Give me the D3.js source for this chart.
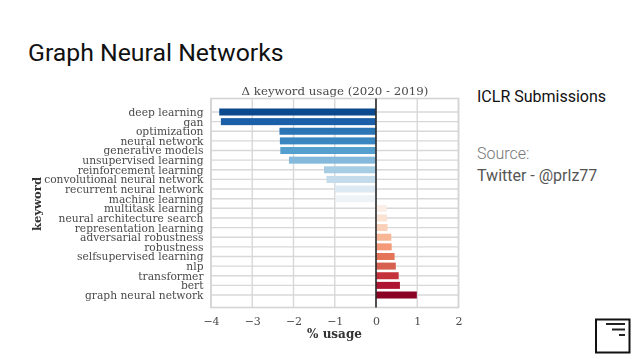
<!DOCTYPE html>
<html>
<head>
<meta charset="utf-8">
<script src="https://cdn.jsdelivr.net/npm/d3@7"></script>
<style>
  html, body { margin: 0; padding: 0; background: #fff; }
  svg { display: block; }
  .slide { font-family: Roboto, sans-serif; }
  .plot { filter: blur(0.4px); }
  .plot text { font-family: "DejaVu Serif", serif; }
</style>
</head>
<body>
<div id="chart"></div>
<script>
const keywords = [
  'deep learning', 'gan', 'optimization', 'neural network', 'generative models',
  'unsupervised learning', 'reinforcement learning', 'convolutional neural network',
  'recurrent neural network', 'machine learning', 'multitask learning',
  'neural architecture search', 'representation learning', 'adversarial robustness',
  'robustness', 'selfsupervised learning', 'nlp', 'transformer', 'bert', 'graph neural network'
];
const usageDelta = [
  -3.8, -3.76, -2.34, -2.33, -2.32, -2.11, -1.26, -1.2, -1.0, -0.98,
  0.26, 0.27, 0.28, 0.37, 0.38, 0.45, 0.48, 0.55, 0.58, 0.99
];
const xTicks = [-4, -3, -2, -1, 0, 1, 2];
const barColors = [
  '#0b4a8f', '#1a5fa8', '#2b75b5', '#3a86c0', '#559fce', '#84b9dc', '#a6cde4', '#c4dbeb', '#dce9f3', '#eef3f7',
  '#fbeee6', '#fbe3d4', '#fbd0b9', '#f9b695', '#f49a78', '#e57357', '#d6604d', '#c5313a', '#ae1530', '#8a0324'
];

const width = 638, height = 359;
const frame = {left: 211, right: 458.5, top: 98.5, bottom: 307.5};

const svg = d3.select('#chart').append('svg')
  .attr('width', width)
  .attr('height', height);

const x = d3.scaleLinear().domain([-4, 2]).range([frame.left, frame.right]);
const y = d3.scalePoint().domain(keywords).range([112, 295]);
const color = d3.scaleOrdinal().domain(keywords).range(barColors);

// slide text
const slide = svg.append('g').attr('class', 'slide');
slide.append('text').attr('x', 28).attr('y', 61)
  .attr('font-size', 24.8).attr('fill', '#111').text('Graph Neural Networks');
slide.append('text').attr('x', 477).attr('y', 102)
  .attr('font-size', 16).attr('fill', '#111').text('ICLR Submissions');
slide.append('text').attr('x', 477).attr('y', 159)
  .attr('font-size', 16).attr('font-weight', 300).attr('fill', '#777').text('Source:');
slide.append('text').attr('x', 477).attr('y', 181)
  .attr('font-size', 16).attr('fill', '#555').text('Twitter - @prlz77');

// logo bottom right
const logo = svg.append('g');
logo.append('rect').attr('x', 596).attr('y', 319.5).attr('width', 33.5).attr('height', 33)
  .attr('fill', 'none').attr('stroke', '#111').attr('stroke-width', 2);
[[606, 625, 324], [612, 625, 329.5], [619, 625, 335]].forEach(d => {
  logo.append('line').attr('x1', d[0]).attr('x2', d[1]).attr('y1', d[2]).attr('y2', d[2])
    .attr('stroke', '#222').attr('stroke-width', 2);
});

// chart
const plot = svg.append('g').attr('class', 'plot');
const gridColor = '#d8d8d8';

plot.append('g').selectAll('line').data(xTicks).join('line')
  .attr('x1', d => x(d)).attr('x2', d => x(d))
  .attr('y1', frame.top).attr('y2', frame.bottom)
  .attr('stroke', gridColor).attr('stroke-width', 1.4);

plot.append('g').selectAll('line').data(keywords).join('line')
  .attr('x1', frame.left).attr('x2', frame.right)
  .attr('y1', d => y(d)).attr('y2', d => y(d))
  .attr('stroke', gridColor).attr('stroke-width', 1.4);

plot.append('rect')
  .attr('x', frame.left).attr('y', frame.top)
  .attr('width', frame.right - frame.left).attr('height', frame.bottom - frame.top)
  .attr('fill', 'none').attr('stroke', '#d4d4d4').attr('stroke-width', 1.6);

plot.append('g').selectAll('rect').data(keywords).join('rect')
  .attr('x', (d, i) => Math.min(x(usageDelta[i]), x(0)))
  .attr('width', (d, i) => Math.abs(x(usageDelta[i]) - x(0)))
  .attr('y', d => y(d) - 3.5)
  .attr('height', 7)
  .attr('fill', d => color(d));

plot.append('line')
  .attr('x1', x(0)).attr('x2', x(0))
  .attr('y1', frame.top).attr('y2', frame.bottom)
  .attr('stroke', '#2b2b2b').attr('stroke-width', 1.6);

const yAxis = d3.axisLeft(y).tickSize(0).tickPadding(7.5);
const yG = plot.append('g').attr('transform', `translate(${frame.left},0)`).call(yAxis);
yG.select('.domain').remove();
yG.selectAll('text').attr('font-size', 10.7).attr('font-family', '"DejaVu Serif", serif').attr('fill', '#4a4a4a');

const xAxis = d3.axisBottom(x).tickValues(xTicks).tickSize(0).tickPadding(9.5)
  .tickFormat(d => d3.format('d')(d).replace('-', '\u2212'));
const xG = plot.append('g').attr('transform', `translate(0,${frame.bottom})`).call(xAxis);
xG.select('.domain').remove();
xG.selectAll('text').attr('font-size', 11).attr('font-family', '"DejaVu Serif", serif').attr('fill', '#4a4a4a');

plot.append('text').attr('x', 335).attr('y', 95).attr('text-anchor', 'middle')
  .attr('font-size', 11.8).attr('fill', '#4a4a4a').text('\u0394 keyword usage (2020 - 2019)');
plot.append('text').attr('x', 334.5).attr('y', 338).attr('text-anchor', 'middle')
  .attr('font-size', 12).attr('font-weight', 700).attr('fill', '#333').text('% usage');
plot.append('text').attr('transform', 'translate(40.5,204) rotate(-90)').attr('text-anchor', 'middle')
  .attr('font-size', 11.6).attr('font-weight', 700).attr('fill', '#333').text('keyword');
</script>
</body>
</html>
